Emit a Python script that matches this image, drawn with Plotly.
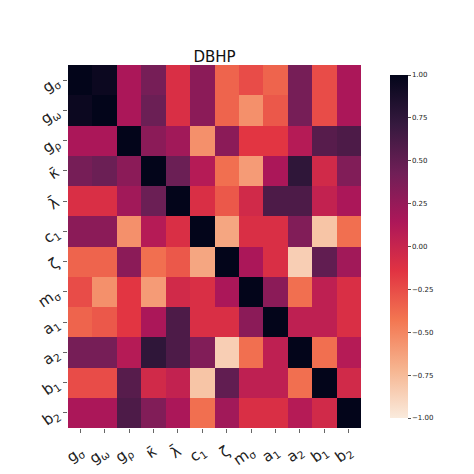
import plotly.graph_objects as go

labels = ["g<sub>σ</sub>", "g<sub>ω</sub>", "g<sub>ρ</sub>", "κ\u0304", "λ\u0304", "c<sub>1</sub>",
          "ζ", "m<sub>σ</sub>", "a<sub>1</sub>", "a<sub>2</sub>", "b<sub>1</sub>", "b<sub>2</sub>"]

# upper triangle values (row i, columns i+1..11)
upper = [
    [0.95, 0.15, 0.40, -0.10, 0.30, -0.35, -0.25, -0.35, 0.40, -0.25, 0.15],
    [0.15, 0.45, -0.10, 0.30, -0.35, -0.55, -0.30, 0.40, -0.25, 0.15],
    [0.30, 0.20, -0.55, 0.30, -0.15, -0.15, 0.10, 0.55, 0.60],
    [0.45, 0.10, -0.40, -0.60, 0.15, 0.75, -0.05, 0.35],
    [-0.10, -0.30, -0.05, 0.60, 0.60, 0.03, 0.15],
    [-0.65, -0.10, -0.10, 0.35, -0.80, -0.40],
    [0.15, -0.10, -0.85, 0.50, 0.20],
    [0.30, -0.40, 0.05, -0.10],
    [0.05, 0.05, -0.10],
    [-0.40, 0.10],
    [-0.05],
]

n = len(labels)
z = [[1.0] * n for _ in range(n)]
for i, row in enumerate(upper):
    for k, v in enumerate(row):
        j = i + 1 + k
        z[i][j] = v
        z[j][i] = v

rocket_r = [
    [0.0, "#faebdd"],
    [0.143, "#f6b48f"],
    [0.286, "#f37651"],
    [0.429, "#e13342"],
    [0.571, "#ad1759"],
    [0.714, "#701f57"],
    [0.857, "#35193e"],
    [1.0, "#03051a"],
]

fig = go.Figure(go.Heatmap(
    z=z, x=labels, y=labels, zmin=-1, zmax=1, colorscale=rocket_r,
    colorbar=dict(
        x=1.065, xanchor="left", xref="paper", y=0.5, yanchor="middle",
        len=1.0, lenmode="fraction", thickness=18, outlinewidth=0,
        tickvals=[-1, -0.75, -0.5, -0.25, 0, 0.25, 0.5, 0.75, 1],
        tickformat=".2f", ticks="outside", ticklen=3, tickwidth=1, tickcolor="#555",
        tickfont=dict(size=7, family="DejaVu Sans", color="#222"),
    ),
))

fig.update_layout(
    width=474, height=474,
    margin=dict(l=60, r=121, t=57, b=52),
    paper_bgcolor="white", plot_bgcolor="white",
    title=dict(text="DBHP", x=(60 + 146.5) / 474, xanchor="center", y=1 - 49 / 474,
               yanchor="middle", font=dict(size=15, family="DejaVu Sans", color="#111")),
    font=dict(family="DejaVu Sans", color="#222"),
)
fig.update_xaxes(tickangle=-35, tickfont=dict(size=15), ticks="outside", ticklen=4,
                 tickcolor="#666", ticklabelstandoff=4, showgrid=False, zeroline=False)
fig.update_yaxes(autorange="reversed", tickangle=-35, tickfont=dict(size=15), ticks="outside",
                 ticklen=4, tickcolor="#666", ticklabelstandoff=4, showgrid=False, zeroline=False)

fig.write_html("out.html")
